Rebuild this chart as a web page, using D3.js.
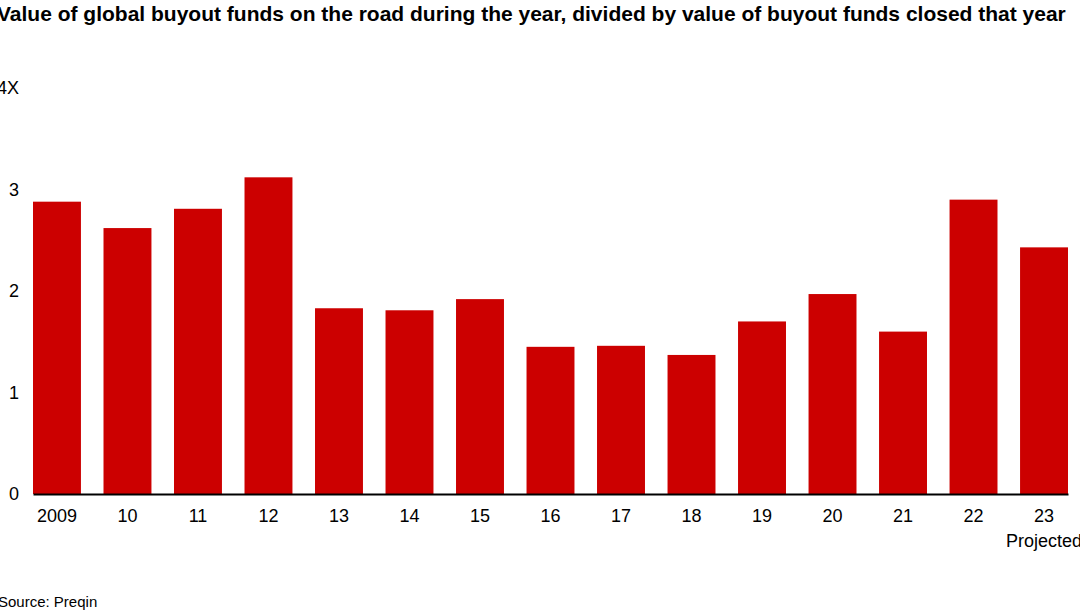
<!DOCTYPE html>
<html>
<head>
<meta charset="utf-8">
<script src="https://cdn.jsdelivr.net/npm/d3@7"></script>
<style>
  body { margin: 0; background: #fff; overflow: hidden; }
  svg { display: block; font-family: "Liberation Sans", Arial, sans-serif; }
</style>
</head>
<body>
<svg id="chart" width="1080" height="612"></svg>
<script>
// values
const years = ["2009", "10", "11", "12", "13", "14", "15", "16", "17", "18", "19", "20", "21", "22", "23"];
const ratios = [2.88, 2.62, 2.81, 3.12, 1.83, 1.81, 1.92, 1.45, 1.46, 1.37, 1.70, 1.97, 1.60, 2.90, 2.43];
const yTicks = [0, 1, 2, 3, 4];
const yTickLabels = ["0", "1", "2", "3", "4X"];

const svg = d3.select("#chart");

const x = d3.scaleBand()
  .domain(years)
  .range([33, 1068])
  .paddingInner(0.32)
  .paddingOuter(0);

const y = d3.scaleLinear()
  .domain([0, 4])
  .range([494, 88]);

// title
svg.append("text")
  .attr("x", -3)
  .attr("y", 21)
  .attr("font-size", 21)
  .attr("font-weight", "bold")
  .attr("fill", "#000")
  .text("Value of global buyout funds on the road during the year, divided by value of buyout funds closed that year");

// y axis labels (no line)
svg.append("g")
  .selectAll("text")
  .data(yTicks)
  .enter()
  .append("text")
  .attr("x", 19)
  .attr("y", d => y(d))
  .attr("dy", "0.35em")
  .attr("text-anchor", "end")
  .attr("font-size", 18)
  .text((d, i) => yTickLabels[i]);

// bars
svg.append("g")
  .selectAll("rect")
  .data(ratios)
  .enter()
  .append("rect")
  .attr("x", (d, i) => x(years[i]))
  .attr("width", x.bandwidth())
  .attr("y", d => y(d))
  .attr("height", d => y(0) - y(d))
  .attr("fill", "#cc0000");

// baseline + year labels
const xAxis = svg.append("g")
  .attr("transform", "translate(0," + y(0) + ")")
  .call(d3.axisBottom(x).tickSize(0).tickPadding(15));
xAxis.select(".domain").attr("stroke", "#000").attr("stroke-width", 2);
xAxis.selectAll("text")
  .attr("font-size", 18)
  .attr("font-family", "Liberation Sans, Arial, sans-serif")
  .attr("fill", "#000");

svg.append("text")
  .attr("x", x("23") + x.bandwidth() / 2)
  .attr("y", 547)
  .attr("text-anchor", "middle")
  .attr("font-size", 18)
  .text("Projected");

// source note
svg.append("text")
  .attr("x", -2)
  .attr("y", 607)
  .attr("font-size", 15)
  .text("Source: Preqin");
</script>
</body>
</html>
